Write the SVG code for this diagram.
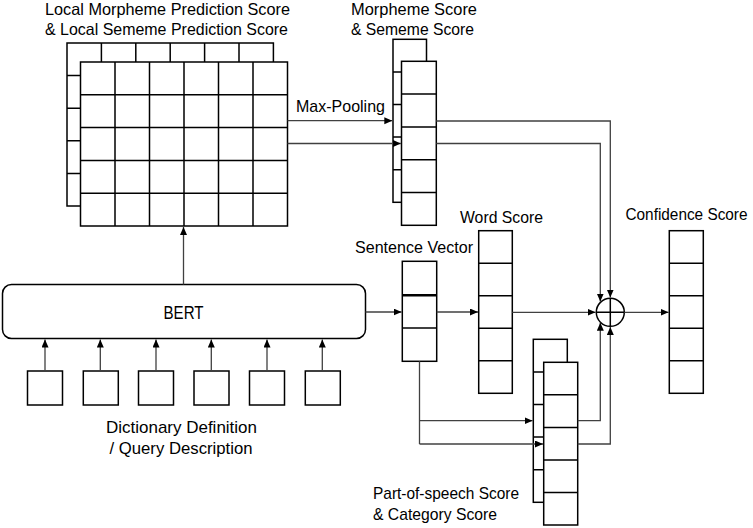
<svg xmlns="http://www.w3.org/2000/svg" width="753" height="528" viewBox="0 0 753 528">
<style>
.bx{fill:#fff;stroke:#000;stroke-width:1.5}
.ln{fill:none;stroke:#000;stroke-width:1.5}
.cn{fill:none;stroke:#404040;stroke-width:1.3}
.t{font-family:"Liberation Sans",Arial,sans-serif;font-size:17px;fill:#000}
.tt{font-size:16.5px}
</style>
<defs>
<marker id="ar" markerUnits="userSpaceOnUse" markerWidth="9" markerHeight="8" refX="8" refY="3.5" orient="auto">
<path d="M0,0 L8,3.5 L0,7 z" fill="#000"/>
</marker>
</defs>
<rect width="753" height="528" fill="#fff"/>

<g id="local-score-grid">
<rect class="bx" x="67" y="43" width="206.4" height="163"/>
<path class="ln" d="M101.4,43V206M135.8,43V206M170.2,43V206M204.6,43V206M239,43V206M67,75.6H273.4M67,108.2H273.4M67,140.8H273.4M67,173.4H273.4"/>
<rect class="bx" x="80.5" y="62" width="207" height="164"/>
<path class="ln" d="M115,62V226M149.5,62V226M184,62V226M218.5,62V226M253,62V226M80.5,94.8H287.5M80.5,127.6H287.5M80.5,160.4H287.5M80.5,193.2H287.5"/>
<text class="t tt" x="45" y="15" textLength="245" lengthAdjust="spacingAndGlyphs">Local Morpheme Prediction Score</text>
<text class="t tt" x="45" y="34.5" textLength="243" lengthAdjust="spacingAndGlyphs">&amp; Local Sememe Prediction Score</text>
</g>

<g id="morpheme-score">
<rect class="bx" x="393" y="39.3" width="33.5" height="163"/>
<path class="ln" d="M393,71.9H426.5M393,104.5H426.5M393,137.1H426.5M393,169.7H426.5"/>
<rect class="bx" x="401.5" y="61.3" width="34.8" height="164"/>
<path class="ln" d="M401.5,94.1H436.3M401.5,126.9H436.3M401.5,159.7H436.3M401.5,192.5H436.3"/>
<text class="t tt" x="351" y="15" textLength="126" lengthAdjust="spacingAndGlyphs">Morpheme Score</text>
<text class="t tt" x="351" y="34.5" textLength="123" lengthAdjust="spacingAndGlyphs">&amp; Sememe Score</text>
</g>

<g id="bert">
<rect class="bx" x="2.5" y="284.5" width="363" height="54" rx="9"/>
<text class="t" x="163.5" y="318.5" textLength="40" lengthAdjust="spacingAndGlyphs" style="font-size:17.5px">BERT</text>
</g>

<g id="inputs">
<rect class="bx" x="27.5" y="371" width="35" height="34"/>
<rect class="bx" x="83.3" y="371" width="35" height="34"/>
<rect class="bx" x="138.5" y="371" width="35" height="34"/>
<rect class="bx" x="194" y="371" width="35" height="34"/>
<rect class="bx" x="249.5" y="371" width="35" height="34"/>
<rect class="bx" x="305.3" y="371" width="35" height="34"/>
<text class="t" x="106" y="433" textLength="151" lengthAdjust="spacingAndGlyphs">Dictionary Definition</text>
<text class="t" x="109.5" y="454" textLength="143" lengthAdjust="spacingAndGlyphs">/ Query Description</text>
</g>

<g id="sentence-vector">
<rect class="bx" x="402.3" y="261.3" width="34.4" height="100"/>
<path class="ln" d="M402.3,328H436.7"/>
<path d="M402.3,295.3H436.7" stroke="#000" stroke-width="2.6"/>
<text class="t" x="355" y="253" textLength="118" lengthAdjust="spacingAndGlyphs">Sentence Vector</text>
</g>

<g id="word-score">
<rect class="bx" x="478.7" y="230.7" width="33.6" height="162.6"/>
<path class="ln" d="M478.7,263.2H512.3M478.7,295.7H512.3M478.7,328.3H512.3M478.7,360.8H512.3"/>
<text class="t" x="460" y="223" textLength="83" lengthAdjust="spacingAndGlyphs">Word Score</text>
</g>

<g id="pos-score">
<rect class="bx" x="533.3" y="339.3" width="34" height="163"/>
<path class="ln" d="M533.3,371.9H567.3M533.3,404.5H567.3M533.3,437.1H567.3M533.3,469.7H567.3"/>
<rect class="bx" x="543.7" y="362.3" width="34" height="162.7"/>
<path class="ln" d="M543.7,394.8H577.7M543.7,427.4H577.7M543.7,459.9H577.7M543.7,492.5H577.7"/>
<text class="t" x="373" y="499.3" textLength="146" lengthAdjust="spacingAndGlyphs">Part-of-speech Score</text>
<text class="t" x="373" y="520" textLength="124" lengthAdjust="spacingAndGlyphs">&amp; Category Score</text>
</g>

<g id="sum">
<circle cx="610.3" cy="312.3" r="14" fill="#fff" stroke="#000" stroke-width="1.5"/>
<path class="ln" d="M596.3,312.3H624.3M610.3,298.3V326.3"/>
</g>

<g id="confidence-score">
<rect class="bx" x="669.3" y="230.7" width="34" height="162.6"/>
<path class="ln" d="M669.3,263.2H703.3M669.3,295.7H703.3M669.3,328.3H703.3M669.3,360.8H703.3"/>
<text class="t" x="625.5" y="220" textLength="122" lengthAdjust="spacingAndGlyphs" style="font-size:16px">Confidence Score</text>
</g>

<g id="connectors">
<path class="cn" d="M183.5,284.5V227" marker-end="url(#ar)"/>
<path class="cn" d="M45,371V339.5" marker-end="url(#ar)"/>
<path class="cn" d="M100.3,371V339.5" marker-end="url(#ar)"/>
<path class="cn" d="M156,371V339.5" marker-end="url(#ar)"/>
<path class="cn" d="M211.3,371V339.5" marker-end="url(#ar)"/>
<path class="cn" d="M267,371V339.5" marker-end="url(#ar)"/>
<path class="cn" d="M322.3,371V339.5" marker-end="url(#ar)"/>
<path class="cn" d="M287.5,120.7H392.3" marker-end="url(#ar)"/>
<text class="t" x="296" y="112" textLength="89" lengthAdjust="spacingAndGlyphs">Max-Pooling</text>
<path class="cn" d="M287.5,143.5H400.8" marker-end="url(#ar)"/>
<path class="cn" d="M436.3,121H610.3V297.5" marker-end="url(#ar)"/>
<path class="cn" d="M436.3,143.5H600.3V301.5" marker-end="url(#ar)"/>
<path class="cn" d="M365.5,312H401.6" marker-end="url(#ar)"/>
<path class="cn" d="M436.7,312H478" marker-end="url(#ar)"/>
<path class="cn" d="M512.3,312.3H595.6" marker-end="url(#ar)"/>
<path class="cn" d="M624.3,312.3H668.6" marker-end="url(#ar)"/>
<path class="cn" d="M419.5,361.3V444"/>
<path class="cn" d="M419.5,420.7H532.6" marker-end="url(#ar)"/>
<path class="cn" d="M419.5,444H543" marker-end="url(#ar)"/>
<path class="cn" d="M577.7,420.7H600.3V322.8" marker-end="url(#ar)"/>
<path class="cn" d="M577.7,444H610.3V327" marker-end="url(#ar)"/>
</g>
</svg>
